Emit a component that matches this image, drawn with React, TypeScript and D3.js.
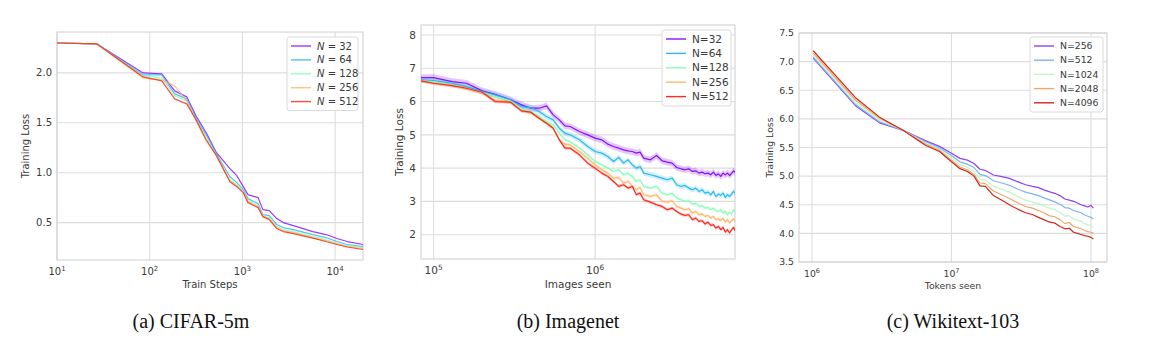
import * as d3 from "d3";

// (a) CIFAR-5m
const stepsA = [10, 27, 85, 135, 186, 251, 316, 407, 525, 733, 871, 1023, 1148, 1479, 1660, 1950, 2344, 2754, 3548, 5754, 7943, 10471, 13490, 20000];
const cifarN32 = [2.30, 2.29, 2.00, 1.99, 1.82, 1.76, 1.57, 1.40, 1.20, 1.04, 0.97, 0.86, 0.78, 0.75, 0.63, 0.62, 0.54, 0.50, 0.47, 0.41, 0.38, 0.34, 0.31, 0.28];
const cifarN64 = [2.30, 2.29, 1.98, 1.98, 1.79, 1.74, 1.55, 1.38, 1.19, 0.96, 0.90, 0.83, 0.74, 0.69, 0.58, 0.57, 0.48, 0.45, 0.43, 0.38, 0.35, 0.31, 0.28, 0.26];
const cifarN128 = [2.30, 2.29, 1.97, 1.95, 1.77, 1.72, 1.53, 1.36, 1.17, 0.93, 0.88, 0.81, 0.72, 0.67, 0.57, 0.55, 0.46, 0.43, 0.41, 0.36, 0.33, 0.29, 0.27, 0.25];
const cifarN256 = [2.30, 2.29, 1.95, 1.93, 1.87, 1.72, 1.52, 1.32, 1.17, 0.92, 0.87, 0.80, 0.71, 0.66, 0.56, 0.54, 0.45, 0.42, 0.40, 0.35, 0.32, 0.29, 0.26, 0.24];
const cifarN512 = [2.30, 2.29, 1.96, 1.92, 1.74, 1.69, 1.53, 1.33, 1.17, 0.91, 0.86, 0.80, 0.70, 0.65, 0.56, 0.53, 0.44, 0.41, 0.39, 0.345, 0.31, 0.28, 0.255, 0.23];
const labelsA = ["32", "64", "128", "256", "512"];

// (b) Imagenet
const imagesB = [83500, 100000, 130000, 160000, 200000, 240000, 300000, 350000, 400000, 450000, 500000, 550000, 600000, 650000, 700000, 800000, 900000,
  1000000, 1100000, 1200000, 1300000, 1400000, 1500000, 1600000, 1700000, 1800000, 1900000, 2000000, 2200000, 2400000, 2600000, 2800000, 3000000,
  3200000, 3400000, 3600000, 3800000, 4000000, 4200000, 4400000, 4600000, 4800000, 5000000, 5200000, 5400000, 5600000, 5800000, 6000000, 6200000,
  6400000, 6600000, 6800000, 7000000, 7200000, 7350000];
const imagenetN32 = [6.72, 6.72, 6.60, 6.55, 6.32, 6.22, 6.05, 5.90, 5.80, 5.80, 5.87, 5.60, 5.45, 5.27, 5.25, 5.10, 5.00,
  4.90, 4.85, 4.72, 4.65, 4.60, 4.55, 4.52, 4.50, 4.45, 4.48, 4.30, 4.25, 4.38, 4.22, 4.18, 4.15,
  4.02, 3.98, 3.95, 3.98, 3.90, 3.92, 3.85, 3.88, 3.83, 3.85, 3.80, 3.88, 3.78, 3.83, 3.75, 3.85,
  3.80, 3.85, 3.78, 3.84, 3.92, 3.87];
const imagenetN64 = [6.65, 6.63, 6.55, 6.45, 6.30, 6.20, 6.05, 5.85, 5.82, 5.70, 5.55, 5.45, 5.20, 5.05, 5.00, 4.85, 4.65,
  4.50, 4.45, 4.35, 4.20, 4.32, 4.15, 4.25, 4.10, 4.00, 4.05, 3.85, 3.80, 3.75, 3.70, 3.65, 3.70,
  3.50, 3.45, 3.48, 3.40, 3.35, 3.40, 3.30, 3.35, 3.25, 3.28, 3.20, 3.30, 3.15, 3.22, 3.18, 3.25,
  3.12, 3.20, 3.15, 3.22, 3.30, 3.25];
const imagenetN128 = [6.63, 6.60, 6.50, 6.40, 6.28, 6.15, 6.02, 5.78, 5.70, 5.55, 5.40, 5.30, 5.05, 4.85, 4.80, 4.60, 4.40,
  4.20, 4.10, 4.00, 3.90, 3.95, 3.80, 3.85, 3.75, 3.60, 3.65, 3.45, 3.40, 3.45, 3.25, 3.20, 3.25,
  3.10, 3.05, 3.00, 3.02, 2.92, 2.95, 2.85, 2.88, 2.80, 2.82, 2.75, 2.80, 2.72, 2.70, 2.75, 2.65,
  2.70, 2.60, 2.68, 2.62, 2.75, 2.68];
const imagenetN256 = [6.62, 6.55, 6.48, 6.38, 6.25, 6.05, 5.98, 5.72, 5.65, 5.50, 5.35, 5.20, 4.85, 4.72, 4.70, 4.50, 4.30,
  4.10, 3.95, 3.85, 3.70, 3.72, 3.55, 3.60, 3.45, 3.35, 3.42, 3.20, 3.15, 3.20, 3.00, 2.98, 3.02,
  2.85, 2.80, 2.75, 2.78, 2.65, 2.70, 2.60, 2.62, 2.55, 2.58, 2.50, 2.55, 2.45, 2.48, 2.42, 2.50,
  2.38, 2.45, 2.35, 2.42, 2.48, 2.40];
const imagenetN512 = [6.62, 6.55, 6.48, 6.40, 6.28, 6.00, 5.98, 5.72, 5.68, 5.50, 5.35, 5.20, 4.85, 4.60, 4.60, 4.40, 4.15,
  4.00, 3.85, 3.75, 3.60, 3.45, 3.50, 3.40, 3.45, 3.20, 3.25, 3.05, 2.98, 2.90, 2.85, 2.75, 2.80,
  2.70, 2.62, 2.58, 2.60, 2.45, 2.50, 2.40, 2.42, 2.32, 2.38, 2.28, 2.30, 2.20, 2.25, 2.15, 2.22,
  2.08, 2.15, 2.05, 2.15, 2.22, 2.12];
const bandB = [0.1, 0.08, 0.05, 0.05, 0.05];
const labelsB = ["32", "64", "128", "256", "512"];

// (c) Wikitext-103
const tokensC = [1.02e6, 2.05e6, 3.05e6, 4.5e6, 6.5e6, 8.2e6, 1.0e7, 1.15e7, 1.3e7, 1.45e7, 1.6e7, 1.75e7, 2.0e7, 2.3e7, 2.6e7, 3.0e7,
  3.4e7, 3.8e7, 4.2e7, 4.6e7, 5.0e7, 5.5e7, 6.0e7, 6.5e7, 7.0e7, 7.5e7, 8.0e7, 8.5e7, 9.0e7, 9.5e7, 1.0e8, 1.04e8];
const wikiN256 = [7.06, 6.23, 5.93, 5.80, 5.62, 5.52, 5.40, 5.31, 5.28, 5.22, 5.12, 5.10, 5.02, 4.99, 4.96, 4.90,
  4.85, 4.82, 4.80, 4.76, 4.73, 4.70, 4.66, 4.60, 4.58, 4.56, 4.53, 4.50, 4.48, 4.46, 4.49, 4.44];
const wikiN512 = [7.08, 6.25, 5.95, 5.80, 5.60, 5.49, 5.36, 5.25, 5.21, 5.15, 5.03, 5.01, 4.92, 4.88, 4.84, 4.77,
  4.72, 4.69, 4.66, 4.62, 4.59, 4.55, 4.51, 4.45, 4.44, 4.40, 4.38, 4.36, 4.32, 4.30, 4.28, 4.25];
const wikiN1024 = [7.11, 6.29, 5.98, 5.80, 5.58, 5.47, 5.32, 5.20, 5.15, 5.08, 4.95, 4.93, 4.82, 4.77, 4.72, 4.64,
  4.58, 4.55, 4.52, 4.48, 4.44, 4.41, 4.37, 4.30, 4.31, 4.25, 4.23, 4.21, 4.17, 4.15, 4.14, 4.10];
const wikiN2048 = [7.15, 6.33, 6.01, 5.80, 5.56, 5.45, 5.28, 5.16, 5.11, 5.03, 4.88, 4.87, 4.74, 4.67, 4.61, 4.53,
  4.47, 4.44, 4.40, 4.36, 4.31, 4.29, 4.24, 4.17, 4.19, 4.12, 4.10, 4.08, 4.05, 4.03, 4.02, 4.00];
const wikiN4096 = [7.19, 6.37, 6.03, 5.80, 5.54, 5.43, 5.25, 5.13, 5.08, 5.00, 4.83, 4.82, 4.66, 4.58, 4.50, 4.42,
  4.36, 4.33, 4.28, 4.24, 4.20, 4.18, 4.12, 4.08, 4.09, 4.02, 4.00, 3.98, 3.96, 3.95, 3.93, 3.90];
const labelsC = ["256", "512", "1024", "2048", "4096"];

const yTicksA = [0.5, 1.0, 1.5, 2.0];
const yTicksB = [2, 3, 4, 5, 6, 7, 8];
const yTicksC = [3.5, 4.0, 4.5, 5.0, 5.5, 6.0, 6.5, 7.0, 7.5];

const FONT = "DejaVu Sans";
const TEXT = "#3a3a3a";
const GRID = "#dddddd";

type PanelProps = {
  id: string;
  xs: number[];
  series: number[][];
  labels: string[];
  colors: string[];
  opacity: number;
  bands?: number[];
  xDomain: [number, number];
  yDomain: [number, number];
  box: { left: number; right: number; top: number; bottom: number };
  yTicks: number[];
  yFmt: (v: number) => string;
  xLabel: string;
  yLabelX: number;
  fs: number;
  legend: { x: number; y: number; w: number; row: number; italic: boolean };
  caption: string;
  captionX: number;
};

function Panel(p: PanelProps) {
  const { left, right, top, bottom } = p.box;
  const fs = p.fs;
  const x = d3.scaleLog().domain(p.xDomain).range([left, right]);
  const y = d3.scaleLinear().domain(p.yDomain).range([bottom, top]);
  const line = d3
    .line<number>()
    .x((_, i) => x(p.xs[i]))
    .y((d) => y(d));
  const area = (vals: number[], s: number) =>
    d3
      .area<number>()
      .x((_, i) => x(p.xs[i]))
      .y0((d) => y(d - s))
      .y1((d) => y(d + s))(vals) || "";
  const xTicks = [1, 2, 3, 4, 5, 6, 7, 8, 9].map((e) => Math.pow(10, e)).filter((t) => t >= p.xDomain[0] * 0.999 && t <= p.xDomain[1]);
  const rowH = p.legend.row;
  const legH = rowH * p.labels.length + 4;

  return (
    <g>
      <defs>
        <clipPath id={`clip-${p.id}`}>
          <rect x={left} y={top} width={right - left} height={bottom - top} />
        </clipPath>
      </defs>
      {p.yTicks.map((t) => (
        <g key={`y${t}`}>
          <line x1={left} x2={right} y1={y(t)} y2={y(t)} stroke={GRID} strokeWidth={1.1} />
          <text x={left - 5} y={y(t)} dy="0.35em" textAnchor="end" fontSize={fs} fill={TEXT} fontFamily={FONT}>
            {p.yFmt(t)}
          </text>
        </g>
      ))}
      {xTicks.map((t) => (
        <g key={`x${t}`}>
          <line x1={x(t)} x2={x(t)} y1={top} y2={bottom} stroke={GRID} strokeWidth={1.1} />
          <text x={x(t)} y={bottom + 15} textAnchor="middle" fontSize={fs} fill={TEXT} fontFamily={FONT}>
            10
            <tspan dy={-4} fontSize={fs * 0.7}>
              {Math.round(Math.log10(t))}
            </tspan>
          </text>
        </g>
      ))}
      <rect x={left} y={top} width={right - left} height={bottom - top} fill="none" stroke="#d2d2d2" strokeWidth={1.1} />
      <g clipPath={`url(#clip-${p.id})`}>
        {p.bands &&
          p.series.map((vals, i) => (
            <path key={`b${i}`} d={area(vals, p.bands![i])} fill={p.colors[i]} opacity={0.22} />
          ))}
        {p.series.map((vals, i) => (
          <path key={`l${i}`} d={line(vals) || ""} fill="none" stroke={p.colors[i]} strokeWidth={1.2} opacity={p.opacity} strokeLinejoin="round" />
        ))}
      </g>
      <text x={(left + right) / 2} y={bottom + 28 + (fs - 10)} textAnchor="middle" fontSize={fs} fill={TEXT} fontFamily={FONT}>
        {p.xLabel}
      </text>
      <text
        transform={`translate(${p.yLabelX},${(top + bottom) / 2}) rotate(-90)`}
        textAnchor="middle"
        fontSize={fs}
        fill={TEXT}
        fontFamily={FONT}
      >
        Training Loss
      </text>
      <rect x={p.legend.x} y={p.legend.y} width={p.legend.w} height={legH} rx={2.5} fill="white" fillOpacity={0.85} stroke="#d6d6d6" strokeWidth={0.9} />
      {p.labels.map((lab, i) => {
        const ly = p.legend.y + 9 + i * rowH;
        return (
          <g key={`lg${i}`}>
            <line x1={p.legend.x + 4} x2={p.legend.x + 24} y1={ly} y2={ly} stroke={p.colors[i]} strokeWidth={1.4} opacity={p.opacity} />
            <text x={p.legend.x + 30} y={ly} dy="0.35em" fontSize={fs} fill={TEXT} fontFamily={FONT}>
              {p.legend.italic ? (
                <>
                  <tspan fontStyle="italic">N</tspan>
                  {` = ${lab}`}
                </>
              ) : (
                `N=${lab}`
              )}
            </text>
          </g>
        );
      })}
      <text x={p.captionX} y={328} textAnchor="middle" fontSize={20} fill="#111" fontFamily="Liberation Serif">
        {p.caption}
      </text>
    </g>
  );
}

const rainbow = ["#8000ff", "#1fb4ec", "#80ffb4", "#ffb462", "#ff1a0d"];
const colorsC = ["#8a42f2", "#7db4ee", "#bdf7c6", "#eea76c", "#d2261c"];

export default function App() {
  return (
    <svg width={1170} height={342} style={{ position: "absolute", left: 0, top: 0, background: "white" }}>
      <rect width={1170} height={342} fill="white" />
      <Panel
        id="a"
        xs={stepsA}
        series={[cifarN32, cifarN64, cifarN128, cifarN256, cifarN512]}
        labels={labelsA}
        colors={rainbow}
        opacity={0.78}
        xDomain={[10, 20000]}
        yDomain={[0.125, 2.41]}
        box={{ left: 57, right: 363, top: 32, bottom: 260 }}
        yTicks={yTicksA}
        yFmt={(v) => v.toFixed(1)}
        xLabel="Train Steps"
        yLabelX={29}
        fs={10}
        legend={{ x: 287, y: 37, w: 71, row: 13.9, italic: true }}
        caption="(a) CIFAR-5m"
        captionX={191}
      />
      <Panel
        id="b"
        xs={imagesB}
        series={[imagenetN32, imagenetN64, imagenetN128, imagenetN256, imagenetN512]}
        labels={labelsB}
        colors={rainbow}
        opacity={0.92}
        bands={bandB}
        xDomain={[83500, 7.35e6]}
        yDomain={[1.27, 8.3]}
        box={{ left: 421, right: 735, top: 25, bottom: 259 }}
        yTicks={yTicksB}
        yFmt={(v) => String(v)}
        xLabel="Images seen"
        yLabelX={403}
        fs={10.5}
        legend={{ x: 662, y: 30, w: 69, row: 14.4, italic: false }}
        caption="(b) Imagenet"
        captionX={568}
      />
      <Panel
        id="c"
        xs={tokensC}
        series={[wikiN256, wikiN512, wikiN1024, wikiN2048, wikiN4096]}
        labels={labelsC}
        colors={colorsC}
        opacity={1}
        xDomain={[8.07e5, 1.303e8]}
        yDomain={[3.5, 7.5]}
        box={{ left: 799, right: 1107, top: 33, bottom: 262 }}
        yTicks={yTicksC}
        yFmt={(v) => v.toFixed(1)}
        xLabel="Tokens seen"
        yLabelX={773}
        fs={9.3}
        legend={{ x: 1030, y: 37, w: 73, row: 14.2, italic: false }}
        caption="(c) Wikitext-103"
        captionX={953}
      />
    </svg>
  );
}
